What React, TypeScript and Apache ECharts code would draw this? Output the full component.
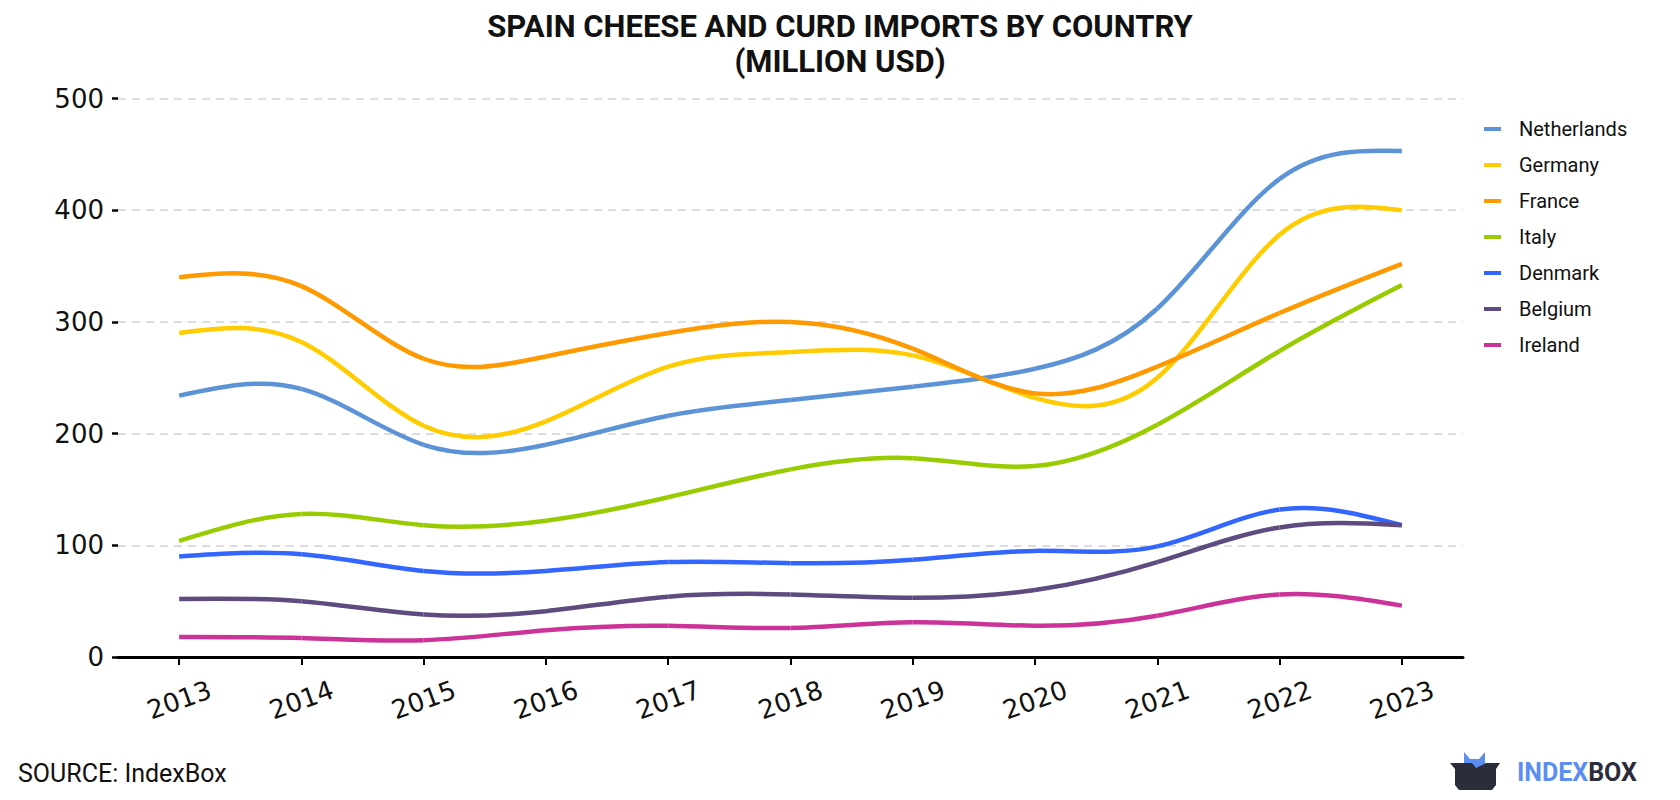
import React, { useEffect, useRef } from "react";
import * as echarts from "echarts";

const years = ["2013", "2014", "2015", "2016", "2017", "2018", "2019", "2020", "2021", "2022", "2023"];

const netherlands = [234, 240, 190, 190, 216, 230, 242, 258, 312, 428, 453];
const germany = [290, 282, 207, 211, 260, 273, 270, 232, 250, 378, 400];
const france = [340, 332, 267, 269, 290, 300, 276, 236, 260, 308, 352];
const italy = [104, 128, 118, 122, 143, 168, 178, 171, 208, 274, 333];
const denmark = [90, 92, 77, 77, 85, 84, 87, 95, 99, 132, 118];
const belgium = [52, 50, 38, 41, 54, 56, 53, 60, 85, 116, 118];
const ireland = [18, 17, 15, 24, 28, 26, 31, 28, 37, 56, 46];

const seriesNames = ["Netherlands", "Germany", "France", "Italy", "Denmark", "Belgium", "Ireland"];
const seriesValues = [netherlands, germany, france, italy, denmark, belgium, ireland];
const seriesColors = ["#5B93D6", "#FFCC00", "#FF9900", "#99CC00", "#3366FF", "#5E4B80", "#CC3399"];

const yTicks = { min: 0, max: 500, interval: 100 };

const titleLines = ["SPAIN CHEESE AND CURD IMPORTS BY COUNTRY", "(MILLION USD)"];
const sourceText = "SOURCE: IndexBox";

// Slopes of a natural cubic spline through equally spaced values (step = 1).
function splineSlopes(y: number[]): number[] {
  const n = y.length - 1;
  const M = new Array(n + 1).fill(0);
  if (n >= 2) {
    const a: number[] = [];
    const b: number[] = [];
    const c: number[] = [];
    const d: number[] = [];
    for (let i = 1; i < n; i++) {
      a.push(1);
      b.push(4);
      c.push(1);
      d.push(6 * (y[i + 1] - 2 * y[i] + y[i - 1]));
    }
    const m = d.length;
    for (let i = 1; i < m; i++) {
      const w = a[i] / b[i - 1];
      b[i] -= w * c[i - 1];
      d[i] -= w * d[i - 1];
    }
    const x = new Array(m).fill(0);
    x[m - 1] = d[m - 1] / b[m - 1];
    for (let i = m - 2; i >= 0; i--) x[i] = (d[i] - c[i] * x[i + 1]) / b[i];
    for (let i = 1; i < n; i++) M[i] = x[i - 1];
  }
  const s: number[] = [];
  for (let i = 0; i < n; i++) s.push(y[i + 1] - y[i] - (2 * M[i] + M[i + 1]) / 6);
  s.push(y[n] - y[n - 1] + (M[n - 1] + 2 * M[n]) / 6);
  return s;
}

export default function App() {
  const ref = useRef<HTMLDivElement>(null);

  useEffect(() => {
    if (!ref.current) return;
    const chart = echarts.init(ref.current, null, { renderer: "svg" });

    const series = seriesNames.map((name, k) => {
      const values = seriesValues[k];
      const slopes = splineSlopes(values);
      const color = seriesColors[k];
      return {
        name,
        type: "custom",
        coordinateSystem: "cartesian2d",
        data: values.map((v, i) => [i, v]),
        encode: { x: 0, y: 1 },
        itemStyle: { color },
        renderItem: (params: any, api: any) => {
          const i = params.dataIndex;
          if (i >= values.length - 1) return null;
          // segment i → i+1 as a cubic Bézier (Hermite form of the spline)
          const p0 = api.coord([i, values[i]]);
          const p1 = api.coord([i + 1, values[i + 1]]);
          const dx = p1[0] - p0[0];
          const cy0 = api.coord([i, values[i] + slopes[i] / 3])[1];
          const cy1 = api.coord([i + 1, values[i + 1] - slopes[i + 1] / 3])[1];
          return {
            type: "bezierCurve",
            shape: {
              x1: p0[0], y1: p0[1],
              x2: p1[0], y2: p1[1],
              cpx1: p0[0] + dx / 3, cpy1: cy0,
              cpx2: p1[0] - dx / 3, cpy2: cy1,
            },
            style: { stroke: color, lineWidth: 4.5, fill: null, lineCap: "butt" },
          };
        },
      };
    });

    const option: any = {
      animation: false,
      backgroundColor: "#ffffff",
      title: {
        text: titleLines.join("\n"),
        left: "center",
        top: 9,
        padding: 0,
        textStyle: {
          fontFamily: "Roboto",
          fontWeight: "bold",
          fontSize: 31,
          lineHeight: 35,
          color: "#111111",
        },
      },
      legend: {
        orient: "vertical",
        left: 1484,
        top: 119,
        padding: 0,
        itemWidth: 17,
        itemHeight: 4,
        itemGap: 16,
        icon: "rect",
        data: seriesNames,
        textStyle: {
          fontFamily: "Roboto",
          fontSize: 20,
          color: "#111111",
          padding: [0, 0, 0, 13],
        },
      },
      grid: {
        left: 118,
        right: 217,
        top: 98.5,
        bottom: 143,
        containLabel: false,
      },
      xAxis: {
        type: "category",
        data: years,
        boundaryGap: true,
        offset: 7,
        axisLine: { show: true, lineStyle: { color: "#000000", width: 3 } },
        axisTick: { show: true, alignWithLabel: true, length: 8, lineStyle: { color: "#000000", width: 2 } },
        axisLabel: {
          rotate: 20,
          align: "center",
          verticalAlign: "middle",
          margin: 36,
          fontFamily: "DejaVu Sans",
          fontSize: 26,
          color: "#111111",
        },
        splitLine: { show: false },
      },
      yAxis: {
        type: "value",
        min: yTicks.min,
        max: yTicks.max,
        interval: yTicks.interval,
        axisLine: { show: false },
        axisTick: { show: true, length: 6, lineStyle: { color: "#000000", width: 2.5 } },
        axisLabel: {
          margin: 14,
          fontFamily: "DejaVu Sans",
          fontSize: 26,
          color: "#111111",
        },
        splitLine: { show: true, lineStyle: { color: "#DDDDDD", width: 2, type: [8, 6] } },
      },
      series,
      graphic: [
        {
          type: "text",
          left: 18,
          top: 761,
          style: {
            text: sourceText,
            fontFamily: "Roboto",
            fontSize: 25,
            fill: "#111111",
          },
        },
        // box icon: blue ears behind a dark tray
        {
          type: "polygon",
          shape: {
            points: [
              [1464, 768], [1464, 752], [1470, 759], [1479, 759], [1485, 752], [1485, 768],
            ],
          },
          style: { fill: "#5C8EF2" },
        },
        {
          type: "polygon",
          shape: {
            points: [
              [1450, 763], [1472, 763], [1476, 768], [1486, 763], [1500, 763], [1496, 769],
              [1496, 785], [1492, 790], [1459, 790], [1455, 785], [1455, 769],
            ],
          },
          style: { fill: "#2B2D3A" },
        },
        {
          type: "text",
          left: 1517,
          top: 760,
          style: {
            text: "{a|INDEX}{b|BOX}",
            rich: {
              a: { fontFamily: "Roboto", fontWeight: "bold", fontSize: 25, fill: "#5C8EF2", letterSpacing: 1 },
              b: { fontFamily: "Roboto", fontWeight: "bold", fontSize: 25, fill: "#2B2D3A", letterSpacing: 1 },
            },
          },
        },
      ],
    };

    chart.setOption(option);
    return () => chart.dispose();
  }, []);

  return (
    <div
      ref={ref}
      style={{ position: "fixed", left: 0, top: 0, width: 1680, height: 800 }}
    />
  );
}
